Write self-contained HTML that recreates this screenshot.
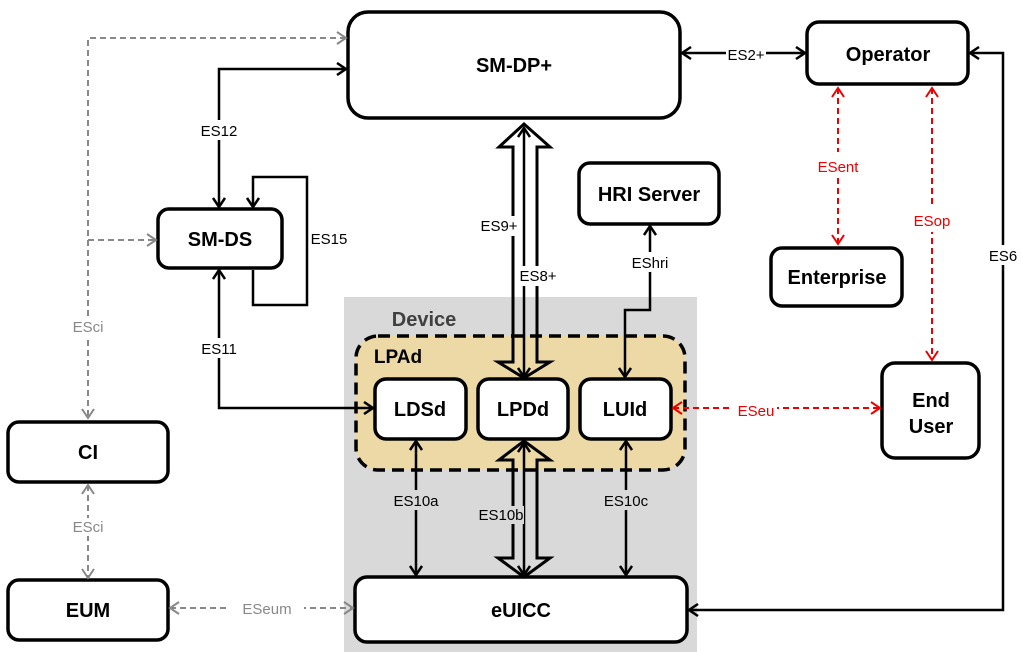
<!DOCTYPE html>
<html><head><meta charset="utf-8"><style>
html,body{margin:0;padding:0;background:#fff;}
svg{display:block;font-family:"Liberation Sans",sans-serif;}
.b{font-weight:bold;font-size:20px;text-anchor:middle;}
.l{font-size:15px;text-anchor:middle;}
</style></head><body>
<svg width="1023" height="652" viewBox="0 0 1023 652">
<defs>
<marker id="a" markerWidth="14" markerHeight="14" refX="11" refY="7" orient="auto-start-reverse" markerUnits="userSpaceOnUse"><polyline points="2,1 11,7 2,13" fill="none" stroke="#000" stroke-width="2.5"/></marker>
<marker id="g" markerWidth="14" markerHeight="14" refX="11" refY="7" orient="auto-start-reverse" markerUnits="userSpaceOnUse"><polyline points="2,1 11,7 2,13" fill="none" stroke="#888" stroke-width="2"/></marker>
<marker id="r" markerWidth="14" markerHeight="14" refX="11" refY="7" orient="auto-start-reverse" markerUnits="userSpaceOnUse"><polyline points="2,1 11,7 2,13" fill="none" stroke="#e00" stroke-width="2"/></marker>
</defs>
<rect x="344" y="297" width="353" height="355" fill="#d9d9d9"/>
<text x="424" y="326" style="font-weight:bold;font-size:20px;text-anchor:middle;fill:#404040">Device</text>
<rect x="356" y="336" width="329" height="134" rx="22" fill="#ecd9a6" stroke="#000" stroke-width="3.5" stroke-dasharray="12,7"/>
<text x="398" y="363" class="b" style="font-size:19px">LPAd</text>

<g fill="#fff" stroke="#000" stroke-width="3.5">
<rect x="348" y="12" width="332" height="106" rx="20"/>
<rect x="807" y="22" width="161" height="62" rx="12"/>
<rect x="579" y="163" width="140" height="61" rx="11"/>
<rect x="158" y="209" width="124" height="59" rx="11"/>
<rect x="771" y="248" width="131" height="58" rx="11"/>
<rect x="882" y="363" width="97" height="95" rx="13"/>
<rect x="8" y="422" width="160" height="60" rx="11"/>
<rect x="8" y="580" width="160" height="60" rx="11"/>
<rect x="355" y="577" width="332" height="65" rx="12"/>
<rect x="375" y="379" width="91" height="60" rx="11"/>
<rect x="478" y="379" width="90" height="60" rx="11"/>
<rect x="580" y="379" width="91" height="60" rx="11"/>
</g>
<text x="514" y="72" class="b">SM-DP+</text>
<text x="888" y="61" class="b">Operator</text>
<text x="649" y="201" class="b">HRI Server</text>
<text x="220" y="246" class="b">SM-DS</text>
<text x="837" y="284" class="b">Enterprise</text>
<text x="931" y="407" class="b">End</text>
<text x="931" y="433" class="b">User</text>
<text x="88" y="459" class="b">CI</text>
<text x="88" y="617" class="b">EUM</text>
<text x="521" y="617" class="b">eUICC</text>
<text x="420" y="416" class="b">LDSd</text>
<text x="523" y="416" class="b">LPDd</text>
<text x="625" y="416" class="b">LUId</text>

<g fill="none" stroke="#888" stroke-width="2" stroke-dasharray="6,4">
<polyline points="346,38 88,38 88,418" marker-start="url(#g)" marker-end="url(#g)"/>
<line x1="88" y1="240" x2="156" y2="240" marker-end="url(#g)"/>
<line x1="88" y1="485" x2="88" y2="578" marker-start="url(#g)" marker-end="url(#g)"/>
<line x1="170" y1="608" x2="353" y2="608" marker-start="url(#g)" marker-end="url(#g)"/>
</g>
<rect x="70" y="318" width="36" height="18" fill="#fff"/>
<text x="88" y="332" class="l" style="fill:#888">ESci</text>
<rect x="70" y="518" width="36" height="18" fill="#fff"/>
<text x="88" y="532" class="l" style="fill:#888">ESci</text>
<rect x="230" y="600" width="74" height="18" fill="#fff"/>
<text x="267" y="614" class="l" style="fill:#888">ESeum</text>

<g fill="none" stroke="#000" stroke-width="2.5">
<polyline points="219,207 219,69 346,69" marker-start="url(#a)" marker-end="url(#a)"/>
<polyline points="253,207 253,177 307,177 307,305 253,305 253,270" marker-start="url(#a)"/>
<polyline points="219,270 219,408 373,408" marker-start="url(#a)" marker-end="url(#a)"/>
<polyline points="650,226 650,310 625,310 625,377" marker-start="url(#a)" marker-end="url(#a)"/>
<line x1="416" y1="441" x2="416" y2="575" marker-start="url(#a)" marker-end="url(#a)"/>
<line x1="626" y1="441" x2="626" y2="575" marker-start="url(#a)" marker-end="url(#a)"/>
<line x1="682" y1="53" x2="805" y2="53" marker-start="url(#a)" marker-end="url(#a)"/>
<polyline points="970,53 1003,53 1003,610 689,610" marker-start="url(#a)" marker-end="url(#a)"/>
<line x1="524" y1="128" x2="524" y2="377" marker-start="url(#a)" marker-end="url(#a)"/>
<line x1="524" y1="443" x2="524" y2="575" marker-start="url(#a)" marker-end="url(#a)"/>
</g>
<g fill="none" stroke="#000" stroke-width="3">
<polyline points="513,362 513,147 499,147 524,124 550,147 537,147 537,362"/>
<polyline points="513,147 513,362 498,362 524,378 550,362 537,362 537,147"/>
<polyline points="513,558 513,460 499,460 524,441 550,460 537,460 537,558"/>
<polyline points="513,460 513,558 498,558 524,577 550,558 537,558 537,460"/>
</g>
<g fill="#fff">
<rect x="200" y="120" width="38" height="20"/>
<rect x="200" y="338" width="38" height="20"/>
<rect x="309" y="228" width="42" height="20"/>
<rect x="628" y="252" width="44" height="20"/>
<rect x="485" y="216" width="36" height="20"/>
<rect x="521" y="266" width="36" height="20"/>
<rect x="726" y="45" width="40" height="18"/>
<rect x="990" y="245" width="28" height="20"/>
</g>
<g fill="#d9d9d9">
<rect x="394" y="490" width="44" height="20"/>
<rect x="604" y="490" width="44" height="20"/>
<rect x="478" y="506" width="46" height="18"/>
</g>
<g>
<text x="219" y="136" class="l">ES12</text>
<text x="219" y="354" class="l">ES11</text>
<text x="329" y="244" class="l">ES15</text>
<text x="650" y="268" class="l">EShri</text>
<text x="499" y="231" class="l">ES9+</text>
<text x="538" y="281" class="l">ES8+</text>
<text x="416" y="506" class="l">ES10a</text>
<text x="501" y="520" class="l">ES10b</text>
<text x="626" y="506" class="l">ES10c</text>
<text x="746" y="60" class="l">ES2+</text>
<text x="1003" y="261" class="l">ES6</text>
</g>

<g fill="none" stroke="#e00" stroke-width="2" stroke-dasharray="6,4">
<line x1="838" y1="88" x2="838" y2="244" marker-start="url(#r)" marker-end="url(#r)"/>
<line x1="932" y1="88" x2="932" y2="360" marker-start="url(#r)" marker-end="url(#r)"/>
<line x1="673" y1="408" x2="880" y2="408" marker-start="url(#r)" marker-end="url(#r)"/>
</g>
<rect x="814" y="152" width="48" height="26" fill="#fff"/>
<text x="838" y="172" class="l" style="fill:#e00">ESent</text>
<rect x="910" y="206" width="44" height="26" fill="#fff"/>
<text x="932" y="226" class="l" style="fill:#e00">ESop</text>
<rect x="733" y="400" width="44" height="18" fill="#fff"/>
<text x="756" y="416" class="l" style="fill:#e00">ESeu</text>
</svg>
</body></html>
